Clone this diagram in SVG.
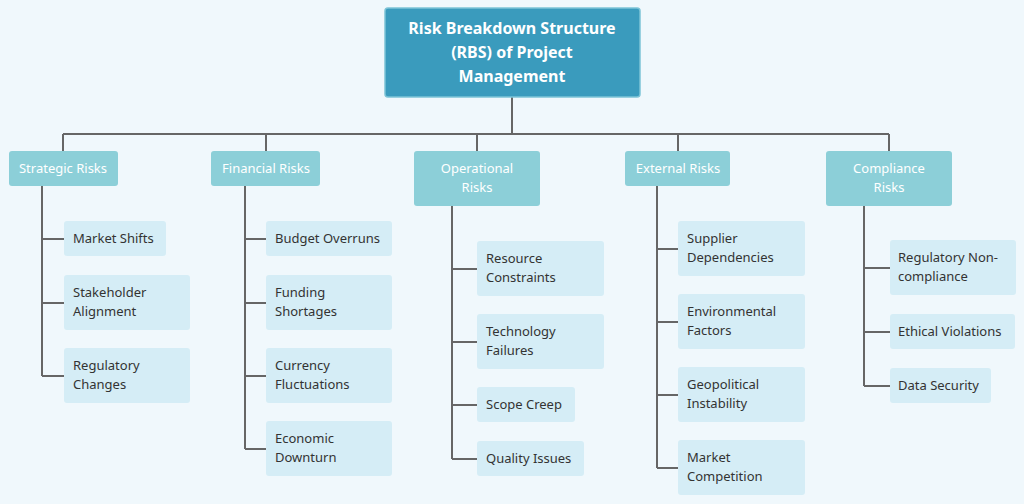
<svg xmlns="http://www.w3.org/2000/svg" width="1024" height="504" viewBox="0 0 1024 504">
<style>
.l1{fill:#8ccfd8}.c{fill:#d5edf6}
text{font-family:"Noto Sans","Open Sans",sans-serif;font-size:13px}
.t1{fill:#fff;text-anchor:middle}.tc{fill:#333}
.ln{stroke:#666;stroke-width:2;fill:none}
</style>
<rect width="1024" height="504" fill="#f0f8fc"/>
<g id="connectors" class="ln">
<path d="M512 97V134M63 134H889M63 134V151M266 134V151M477 134V151M678 134V151M889 134V151"/>
<path d="M42 186V376M42 239H64M42 303H64M42 376H64"/>
<path d="M245 186V449M245 239H266M245 303H266M245 376H266M245 449H266"/>
<path d="M452 206V459M452 269H477M452 342H477M452 405H477M452 459H477"/>
<path d="M657 186V468M657 249H678M657 322H678M657 395H678M657 468H678"/>
<path d="M864 206V386M864 268H890M864 332H890M864 386H890"/>
</g>
<g id="root"><rect x="385" y="8" width="255" height="89" rx="3" fill="#3a9bbd" stroke="#7cc3d6" stroke-width="1.5"/>
<text class="t1" font-weight="bold" style="font-size:16px"><tspan x="512" y="34">Risk Breakdown Structure</tspan><tspan x="512" y="58">(RBS) of Project</tspan><tspan x="512" y="82">Management</tspan></text></g>
<g id="strategic"><rect class="l1" x="9" y="151" width="109" height="35" rx="3"/><text class="t1" x="63" y="173">Strategic Risks</text></g>
<g id="financial"><rect class="l1" x="211" y="151" width="109" height="35" rx="3"/><text class="t1" x="266" y="173">Financial Risks</text></g>
<g id="operational"><rect class="l1" x="414" y="151" width="126" height="55" rx="3"/><text class="t1"><tspan x="477" y="173">Operational</tspan><tspan x="477" y="192">Risks</tspan></text></g>
<g id="external"><rect class="l1" x="625" y="151" width="105" height="35" rx="3"/><text class="t1" x="678" y="173">External Risks</text></g>
<g id="compliance"><rect class="l1" x="826" y="151" width="126" height="55" rx="3"/><text class="t1"><tspan x="889" y="173">Compliance</tspan><tspan x="889" y="192">Risks</tspan></text></g>

<g id="s1"><rect class="c" x="64" y="221" width="102" height="35" rx="3"/><text class="tc" x="73" y="243">Market Shifts</text></g>
<g id="s2"><rect class="c" x="64" y="275" width="126" height="55" rx="3"/><text class="tc"><tspan x="73" y="297">Stakeholder</tspan><tspan x="73" y="316">Alignment</tspan></text></g>
<g id="s3"><rect class="c" x="64" y="348" width="126" height="55" rx="3"/><text class="tc"><tspan x="73" y="370">Regulatory</tspan><tspan x="73" y="389">Changes</tspan></text></g>

<g id="f1"><rect class="c" x="266" y="221" width="126" height="35" rx="3"/><text class="tc" x="275" y="243">Budget Overruns</text></g>
<g id="f2"><rect class="c" x="266" y="275" width="126" height="55" rx="3"/><text class="tc"><tspan x="275" y="297">Funding</tspan><tspan x="275" y="316">Shortages</tspan></text></g>
<g id="f3"><rect class="c" x="266" y="348" width="126" height="55" rx="3"/><text class="tc"><tspan x="275" y="370">Currency</tspan><tspan x="275" y="389">Fluctuations</tspan></text></g>
<g id="f4"><rect class="c" x="266" y="421" width="126" height="55" rx="3"/><text class="tc"><tspan x="275" y="443">Economic</tspan><tspan x="275" y="462">Downturn</tspan></text></g>

<g id="o1"><rect class="c" x="477" y="241" width="127" height="55" rx="3"/><text class="tc"><tspan x="486" y="263">Resource</tspan><tspan x="486" y="282">Constraints</tspan></text></g>
<g id="o2"><rect class="c" x="477" y="314" width="127" height="55" rx="3"/><text class="tc"><tspan x="486" y="336">Technology</tspan><tspan x="486" y="355">Failures</tspan></text></g>
<g id="o3"><rect class="c" x="477" y="387" width="98" height="35" rx="3"/><text class="tc" x="486" y="409">Scope Creep</text></g>
<g id="o4"><rect class="c" x="477" y="441" width="107" height="35" rx="3"/><text class="tc" x="486" y="463">Quality Issues</text></g>

<g id="e1"><rect class="c" x="678" y="221" width="127" height="55" rx="3"/><text class="tc"><tspan x="687" y="243">Supplier</tspan><tspan x="687" y="262">Dependencies</tspan></text></g>
<g id="e2"><rect class="c" x="678" y="294" width="127" height="55" rx="3"/><text class="tc"><tspan x="687" y="316">Environmental</tspan><tspan x="687" y="335">Factors</tspan></text></g>
<g id="e3"><rect class="c" x="678" y="367" width="127" height="55" rx="3"/><text class="tc"><tspan x="687" y="389">Geopolitical</tspan><tspan x="687" y="408">Instability</tspan></text></g>
<g id="e4"><rect class="c" x="678" y="440" width="127" height="55" rx="3"/><text class="tc"><tspan x="687" y="462">Market</tspan><tspan x="687" y="481">Competition</tspan></text></g>

<g id="c1"><rect class="c" x="890" y="240" width="126" height="55" rx="3"/><text class="tc"><tspan x="898" y="262">Regulatory Non-</tspan><tspan x="898" y="281">compliance</tspan></text></g>
<g id="c2"><rect class="c" x="890" y="314" width="125" height="35" rx="3"/><text class="tc" x="898" y="336">Ethical Violations</text></g>
<g id="c3"><rect class="c" x="890" y="368" width="101" height="35" rx="3"/><text class="tc" x="898" y="390">Data Security</text></g>
</svg>
